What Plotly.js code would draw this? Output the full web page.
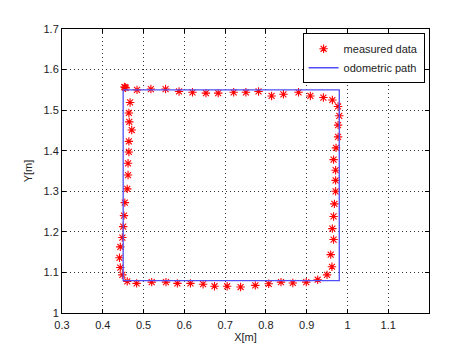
<!DOCTYPE html>
<html>
<head>
<meta charset="utf-8">
<script src="https://cdn.plot.ly/plotly-3.0.1.min.js"></script>
<style>html,body{margin:0;padding:0;background:#fff;}#chart{width:474px;height:355px;}</style>
</head>
<body>
<div id="chart"></div>
<script>
const measuredX = [0.453, 0.456, 0.455, 0.484, 0.518, 0.554, 0.587, 0.620, 0.653, 0.683, 0.721, 0.751, 0.782, 0.814, 0.843, 0.880, 0.909, 0.941, 0.963,
  0.977, 0.980, 0.977, 0.977, 0.972, 0.966, 0.971, 0.971, 0.971, 0.968, 0.966, 0.963, 0.966, 0.959, 0.962, 0.950, 0.927,
  0.899, 0.866, 0.837, 0.807, 0.774, 0.738, 0.705, 0.674, 0.646, 0.615, 0.583, 0.555, 0.520, 0.483, 0.460,
  0.448, 0.443, 0.441, 0.443, 0.448, 0.450, 0.452, 0.454, 0.460, 0.462, 0.462, 0.464, 0.464, 0.471, 0.465, 0.464, 0.467];
const measuredY = [1.557, 1.555, 1.556, 1.550, 1.552, 1.552, 1.546, 1.544, 1.542, 1.542, 1.544, 1.544, 1.546, 1.535, 1.539, 1.544, 1.535, 1.531, 1.525,
  1.509, 1.486, 1.463, 1.434, 1.407, 1.378, 1.352, 1.327, 1.300, 1.269, 1.238, 1.208, 1.181, 1.144, 1.114, 1.094, 1.082,
  1.076, 1.074, 1.076, 1.072, 1.068, 1.064, 1.066, 1.066, 1.071, 1.073, 1.073, 1.076, 1.076, 1.073, 1.078,
  1.094, 1.112, 1.136, 1.163, 1.186, 1.213, 1.240, 1.272, 1.306, 1.340, 1.369, 1.397, 1.423, 1.451, 1.471, 1.493, 1.519];
// odometric path (corners)
const pathX = [0.45, 0.98, 0.98, 0.45, 0.45];
const pathY = [1.55, 1.55, 1.08, 1.08, 1.55];
const xTicks = [0.3, 0.4, 0.5, 0.6, 0.7, 0.8, 0.9, 1, 1.1];
const xTickText = ['0.3', '0.4', '0.5', '0.6', '0.7', '0.8', '0.9', '1', '1.1'];
const yTicks = [1, 1.1, 1.2, 1.3, 1.4, 1.5, 1.6, 1.7];
const yTickText = ['1', '1.1', '1.2', '1.3', '1.4', '1.5', '1.6', '1.7'];

const font = {family: 'Arial, "Liberation Sans", sans-serif', size: 11, color: '#222'};
const traces = [
  {x: measuredX, y: measuredY, type: 'scatter', mode: 'markers', name: 'measured data',
   marker: {symbol: 'asterisk-open', size: 7, color: '#ff0000', line: {color: '#ff1010', width: 1.1}}},
  {x: pathX, y: pathY, type: 'scatter', mode: 'lines', name: 'odometric path',
   line: {color: '#4f4ff5', width: 1.3}}
];
const axisCommon = {showline: true, linecolor: '#000', linewidth: 1, mirror: 'ticks', ticks: 'inside', ticklen: 4,
  tickcolor: '#000', showgrid: true, gridcolor: '#333', griddash: '1px,3px', gridwidth: 1, zeroline: false, tickfont: font};
const layout = {
  width: 474, height: 355,
  margin: {l: 62, r: 45, t: 29, b: 42},
  paper_bgcolor: '#fff', plot_bgcolor: '#fff',
  font: font,
  showlegend: true,
  legend: {x: 0.988, xanchor: 'right', y: 0.985, yanchor: 'top', bgcolor: '#fff', bordercolor: '#000', borderwidth: 1,
    font: font, traceorder: 'normal', tracegroupgap: 0, itemwidth: 30},
  xaxis: Object.assign({}, axisCommon, {range: [0.3, 1.2], tickvals: xTicks, ticktext: xTickText, ticklabelstandoff: 2,
    title: {text: 'X[m]', font: font, standoff: 3}}),
  yaxis: Object.assign({}, axisCommon, {range: [1, 1.7], tickvals: yTicks, ticktext: yTickText,
    title: {text: 'Y[m]', font: font, standoff: 8}})
};
Plotly.newPlot('chart', traces, layout, {displayModeBar: false, staticPlot: true});
</script>
</body>
</html>
